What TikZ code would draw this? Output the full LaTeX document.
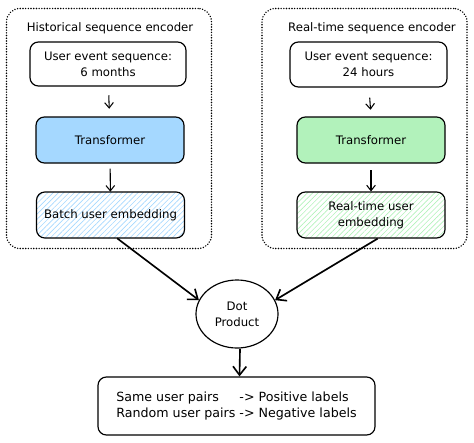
\documentclass[tikz,border=0pt]{standalone}
\usepackage{fontspec}
\setmainfont{DejaVu Sans}
\usetikzlibrary{arrows.meta,patterns.meta,shapes.geometric}

\definecolor{transblue}{HTML}{A5D8FF}
\definecolor{transgreen}{HTML}{B2F2BB}

\begin{document}
\begin{tikzpicture}
    [%%%%%%%%%%%%%%%%%%%%%%%%%%%%%%
        x=0.3mm, y=-0.3mm,
        font=\fontsize{10}{13.5}\selectfont,
        group/.style={rectangle, rounded corners=4mm, draw=black, line width=1.3pt, dash pattern=on 0.1pt off 2.2pt, line cap=round, minimum width=61.5mm, minimum height=72mm},
        box/.style={rectangle, rounded corners=2.5mm, draw=black, line width=1pt, align=center, minimum width=44.4mm, minimum height=13.8mm},
        hatch/.style={pattern={Lines[angle=45,distance=3.2pt,line width=0.55pt]}, pattern color=#1},
        small/.style={-{Straight Barb[length=1.6mm,width=2.6mm]}, line width=0.9pt},
        big/.style={-{Straight Barb[length=2.6mm,width=4mm]}, line width=1.4pt},
    ]%%%%%%%%%%%%%%%%%%%%%%%%%%%%%%
\useasboundingbox (0,0) rectangle (474,442);
% historical branch
\node[group] (histgroup) at (109,128.5) {};
\node (histtitle) at (110,28) {Historical sequence encoder};
\node[box, minimum width=46.8mm, minimum height=13.2mm] (histseq) at (108,64) {User event sequence:\\6 months};
\node[box, fill=transblue] (histtrans) at (110,140) {Transformer};
\node[box, hatch=transblue] (histemb) at (110.5,215) {Batch user embedding};
% real-time branch
\node[group] (rtgroup) at (364.5,128.5) {};
\node (rttitle) at (372,28) {Real-time sequence encoder};
\node[box, minimum width=47.1mm, minimum height=13.5mm] (rtseq) at (368.5,64.5) {User event sequence:\\24 hours};
\node[box, fill=transgreen] (rttrans) at (371,140) {Transformer};
\node[box, hatch=transgreen] (rtemb) at (371,215) {Real-time user\\embedding};
% merge
\node[ellipse, draw=black, line width=1pt, minimum width=24.6mm, minimum height=20.4mm, align=center] (dot) at (237,314) {Dot\\Product};
\node[box, minimum width=83.1mm, minimum height=17.4mm, font=\fontsize{10.8}{14}\selectfont] (result) at (236.5,406)
    {\begin{tabular}{@{}l@{ }l@{ }l@{}}Same user pairs & -> & Positive labels\\Random user pairs & -> & Negative labels\end{tabular}};
\draw[small, shorten <=2.6mm, shorten >=2.3mm] (histseq) -- (histtrans);
\draw[small, shorten <=1.5mm] (histtrans) -- (histemb);
\draw[small, shorten <=3mm, shorten >=2mm] (rtseq.south) ++(0.5,0) -- (rttrans.north);
\draw[small, shorten <=2mm] (rttrans) -- (rtemb);
\draw[big] ([xshift=2mm]histemb.south) -- (dot.160);
\draw[big] ([xshift=2mm]rtemb.south) -- (dot.20);
\draw[big] ([xshift=0.9mm]dot.south) -- ([xshift=0.9mm]result.north);
\end{tikzpicture}
\end{document}
